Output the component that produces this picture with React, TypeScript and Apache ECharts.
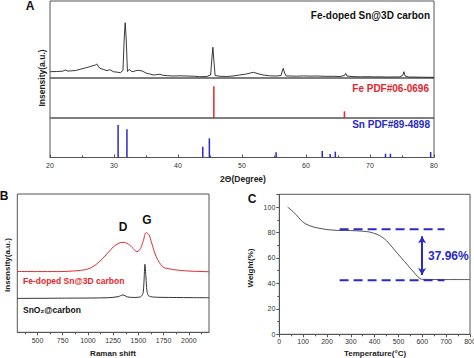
import React, { useEffect, useRef } from 'react';
import * as echarts from 'echarts';

// ---------- Panel A : XRD ----------
const xrdPattern: [number, number][] = [
  [20, 6.3], [21, 6.5], [22, 6.8], [22.4, 8.0], [22.8, 6.9], [24, 7.5], [24.7, 8.7], [25.5, 10.0],
  [26.2, 11.3], [26.9, 12.7], [27.1, 13.0], [27.3, 14.0], [27.5, 12.0], [27.8, 9.7], [28.4, 8.5],
  [28.9, 7.3], [29.3, 8.3], [29.5, 7.8], [29.9, 6.3], [30.5, 5.8], [31.0, 5.3], [31.4, 7.5],
  [31.6, 40], [31.75, 55.3], [31.9, 40], [32.1, 6.5], [32.4, 8.7], [32.7, 6.6], [33.0, 6.3],
  [33.4, 7.3], [33.8, 7.7], [34.4, 7.0], [35.1, 4.7], [35.6, 4.0], [36.1, 3.0], [36.6, 3.3],
  [37.2, 3.7], [37.6, 2.8], [38.4, 2.3], [39.2, 2.0], [40.3, 2.2], [41.4, 2.0], [42.4, 1.8],
  [43.4, 1.3], [44.5, 1.5], [45.1, 3], [45.3, 20], [45.45, 30.7], [45.6, 18], [45.8, 2.5],
  [46.6, 1.7], [47.6, 1.5], [48.6, 2.0], [49.6, 3.0], [50.7, 4.0], [51.3, 5.0], [51.8, 5.7],
  [52.5, 4.3], [53.3, 3.0], [54.3, 2.2], [55.4, 2.0], [56.1, 2.5], [56.3, 7], [56.45, 9.7],
  [56.65, 5], [56.9, 2.0], [57.5, 2.0], [58.5, 1.8], [59.6, 2.1], [60.6, 1.9], [61.7, 2.0],
  [63.0, 1.7], [64.3, 1.7], [65.3, 1.5], [66.0, 2.5], [66.2, 4.7], [66.4, 2.0], [67.5, 1.3],
  [68.5, 1.2], [69.5, 1.3], [70.5, 1.1], [71.6, 1.2], [72.6, 1.0], [73.6, 1.0], [74.6, 1.1],
  [75.1, 2.5], [75.3, 6.3], [75.5, 2], [76.0, 1.0], [77.0, 0.9], [78.0, 0.8], [79.0, 0.7], [80, 0.7],
];
const fePdf: [number, number][] = [[45.6, 31.7], [66.0, 6.7]];
const snPdf: [number, number][] = [
  [30.64, 32.5], [32.02, 28.2], [43.87, 10.8], [44.9, 19.2], [55.33, 5.2], [62.54, 6.5],
  [63.78, 3.5], [64.58, 5.8], [72.42, 3.8], [73.19, 3.8], [79.48, 5.5],
];
const xrdTicks = [20, 30, 40, 50, 60, 70, 80];

// ---------- Panel B : Raman ----------
const ramanFe: [number, number][] = [
  [300, 44.0], [500, 43.9], [700, 43.9], [850, 44.3], [950, 45.0], [1000, 45.8], [1050, 47.5],
  [1120, 51.5], [1215, 58.8], [1270, 62.8], [1347, 65.1], [1400, 63.8], [1450, 60.5], [1485, 58.3],
  [1520, 60.5], [1550, 66.5], [1578, 72.0], [1605, 70.5], [1630, 65], [1677, 54.7], [1742, 47.4],
  [1800, 46], [1875, 45.1], [2000, 44.3], [2200, 43.8],
];
const ramanSnO2: [number, number][] = [
  [300, 24.5], [800, 24.7], [1200, 25.0], [1300, 25.8], [1347, 27.0], [1390, 25.6], [1450, 25.2],
  [1520, 25.6], [1545, 28], [1555, 36], [1565, 49.2], [1575, 40], [1585, 30], [1600, 26.5],
  [1650, 25.5], [1800, 25.2], [2200, 25.0],
];
const ramanTicks = [500, 750, 1000, 1250, 1500, 1750, 2000];
const ramanMinorTicks = [375, 625, 875, 1125, 1375, 1625, 1875, 2125];

// ---------- Panel C : TGA ----------
const tga: [number, number][] = [
  [35, 100], [60, 96], [80, 92], [100, 88], [125, 85.5], [150, 84], [200, 82.3], [250, 81.6],
  [300, 81.5], [350, 81.0], [380, 80.3], [410, 78.5], [430, 76.5], [450, 73.5], [480, 67],
  [510, 60.5], [540, 54], [570, 47.5], [590, 43.8], [600, 43.2], [700, 43.0], [800, 43.0],
];
const upperLevel: [number, number][] = [[253, 82.5], [693, 82.5]];
const lowerLevel: [number, number][] = [[253, 42.4], [693, 42.4]];
const lossArrow: [number, number][] = [[599, 77], [599, 46.5]];
const lossLabel = '37.96%';

const FONT = '"Liberation Sans", Arial, sans-serif';
const RED = '#e3262d';
const BLUE = '#2a2ac8';
const AXIS = '#555';

export default function App() {
  const ref = useRef<HTMLDivElement>(null);
  useEffect(() => {
    if (!ref.current) return;
    const chart = echarts.init(ref.current, undefined, { renderer: 'svg' });
    const gridBase = { show: true, borderColor: AXIS, borderWidth: 1, outerBoundsMode: 'none', containLabel: false };
    const hiddenX = (gridIndex: number, min: number, max: number) => ({
      type: 'value', gridIndex, min, max, show: false,
    });
    const hiddenY = (gridIndex: number, min: number, max: number) => ({
      type: 'value', gridIndex, min, max, show: false,
    });
    const tickLabel = { fontSize: 7, color: '#333', fontFamily: FONT };
    const text = (t: string, x: number, y: number, size: number, fill: string, extra: any = {}) => ({
      type: 'text', x, y, rotation: extra.rotation || 0,
      style: {
        text: t, fill, font: `bold ${size}px ${FONT}`,
        textAlign: extra.align || 'center', textVerticalAlign: 'middle',
      },
    });
    const option: any = {
      animation: false,
      backgroundColor: '#fff',
      grid: [
        { ...gridBase, left: 50, top: 1, width: 384, height: 77 },
        { ...gridBase, left: 50, top: 78, width: 384, height: 40 },
        { ...gridBase, left: 50, top: 118, width: 384, height: 39.5 },
        { ...gridBase, left: 17.3, top: 194, width: 191.7, height: 138.3 },
        { ...gridBase, left: 279.3, top: 194.3, width: 190.7, height: 140 },
      ],
      xAxis: [
        hiddenX(0, 20, 80),
        hiddenX(1, 20, 80),
        {
          type: 'value', gridIndex: 2, min: 20, max: 80, interval: 10,
          axisLine: { lineStyle: { color: AXIS } },
          axisTick: { inside: true, length: 3, lineStyle: { color: AXIS } },
          minorTick: { show: true, splitNumber: 2, length: 2, lineStyle: { color: AXIS } },
          splitLine: { show: false },
          axisLabel: { ...tickLabel, margin: 4, formatter: (v: number) => (xrdTicks.includes(v) ? String(v) : '') },
        },
        {
          type: 'value', gridIndex: 3, min: 300, max: 2200,
          axisLine: { lineStyle: { color: AXIS } },
          axisTick: { customValues: ramanTicks, length: 3, lineStyle: { color: AXIS } },
          splitLine: { show: false },
          axisLabel: { ...tickLabel, margin: 5, customValues: ramanTicks, formatter: (v: number) => String(v) },
        },
        {
          type: 'value', gridIndex: 3, min: 300, max: 2200, position: 'bottom',
          axisLine: { show: false },
          axisTick: { customValues: ramanMinorTicks, length: 2, lineStyle: { color: AXIS } },
          splitLine: { show: false },
          axisLabel: { show: false },
        },
        {
          type: 'value', gridIndex: 4, min: 0, max: 800, interval: 100,
          axisLine: { lineStyle: { color: AXIS } },
          axisTick: { length: 3, lineStyle: { color: AXIS } },
          minorTick: { show: true, splitNumber: 2, length: 2, lineStyle: { color: AXIS } },
          splitLine: { show: false },
          axisLabel: { ...tickLabel, margin: 4, formatter: (v: number) => String(v) },
        },
      ],
      yAxis: [
        hiddenY(0, 0, 77),
        hiddenY(1, 0, 40),
        hiddenY(2, 0, 39.5),
        hiddenY(3, 0, 100),
        {
          type: 'value', gridIndex: 4, min: 0, max: 110, interval: 20,
          axisLine: { lineStyle: { color: AXIS } },
          axisTick: { length: 3, lineStyle: { color: AXIS } },
          minorTick: { show: true, splitNumber: 2, length: 2, lineStyle: { color: AXIS } },
          splitLine: { show: false },
          axisLabel: { ...tickLabel, margin: 4, formatter: (v: number) => (v % 20 === 0 && v <= 100 ? String(v) : '') },
        },
      ],
      series: [
        {
          type: 'line', xAxisIndex: 0, yAxisIndex: 0, data: xrdPattern, showSymbol: false,
          lineStyle: { color: '#222', width: 0.9 },
        },
        {
          type: 'bar', xAxisIndex: 1, yAxisIndex: 1, data: fePdf, barWidth: 1.5,
          itemStyle: { color: RED },
        },
        {
          type: 'bar', xAxisIndex: 2, yAxisIndex: 2, data: snPdf, barWidth: 1.5,
          itemStyle: { color: BLUE },
        },
        {
          type: 'line', xAxisIndex: 3, yAxisIndex: 3, data: ramanFe, showSymbol: false, smooth: 0.4,
          lineStyle: { color: RED, width: 1 },
        },
        {
          type: 'line', xAxisIndex: 3, yAxisIndex: 3, data: ramanSnO2, showSymbol: false, smooth: 0.3,
          lineStyle: { color: '#333', width: 1 },
        },
        {
          type: 'line', xAxisIndex: 5, yAxisIndex: 4, data: tga, showSymbol: false, smooth: 0.3,
          lineStyle: { color: '#555', width: 1 },
          markLine: {
            silent: true, symbol: ['arrow', 'arrow'], symbolSize: [6, 7],
            label: { show: false },
            lineStyle: { color: BLUE, width: 2, type: 'solid' },
            data: [[{ coord: lossArrow[0] }, { coord: lossArrow[1] }]],
          },
        },
        {
          type: 'line', xAxisIndex: 5, yAxisIndex: 4, data: upperLevel, showSymbol: false,
          lineStyle: { color: BLUE, width: 2, type: [9, 5] },
        },
        {
          type: 'line', xAxisIndex: 5, yAxisIndex: 4, data: lowerLevel, showSymbol: false,
          lineStyle: { color: BLUE, width: 2, type: [9, 5] },
        },
      ],
      graphic: [
        text('A', 30, 6, 12, '#111'),
        text('Fe-doped Sn@3D carbon', 430, 15, 10, '#111', { align: 'right' }),
        text('Fe PDF#06-0696', 429, 88.5, 10, RED, { align: 'right' }),
        text('Sn PDF#89-4898', 430, 124.5, 10, BLUE, { align: 'right' }),
        text('Insensity(a.u.)', 42, 78, 8.5, '#222', { rotation: Math.PI / 2 }),
        text('2Θ(Degree)', 243, 179, 8.5, '#222'),
        text('B', 4, 196, 12, '#111'),
        text('D', 123, 227, 12, '#111'),
        text('G', 147, 219.5, 12, '#111'),
        text('Fe-doped Sn@3D carbon', 23, 281, 8.5, RED, { align: 'left' }),
        text('SnO₂@carbon', 23, 310, 8.5, '#111', { align: 'left' }),
        text('Insensity(a.u.)', 7.5, 265, 8, '#222', { rotation: Math.PI / 2 }),
        text('Raman shift', 113, 353, 8, '#222'),
        text('C', 252, 199, 12, '#111'),
        text('Weight(%)', 250, 268, 8, '#222', { rotation: Math.PI / 2 }),
        text('Temperature(°C)', 375, 353, 8, '#222'),
        text(lossLabel, 428, 256, 12, BLUE, { align: 'left' }),
      ],
    };
    chart.setOption(option);
    return () => chart.dispose();
  }, []);
  return (
    <div
      ref={ref}
      style={{ position: 'fixed', left: 0, top: 0, width: 474, height: 358, background: '#fff' }}
    />
  );
}
